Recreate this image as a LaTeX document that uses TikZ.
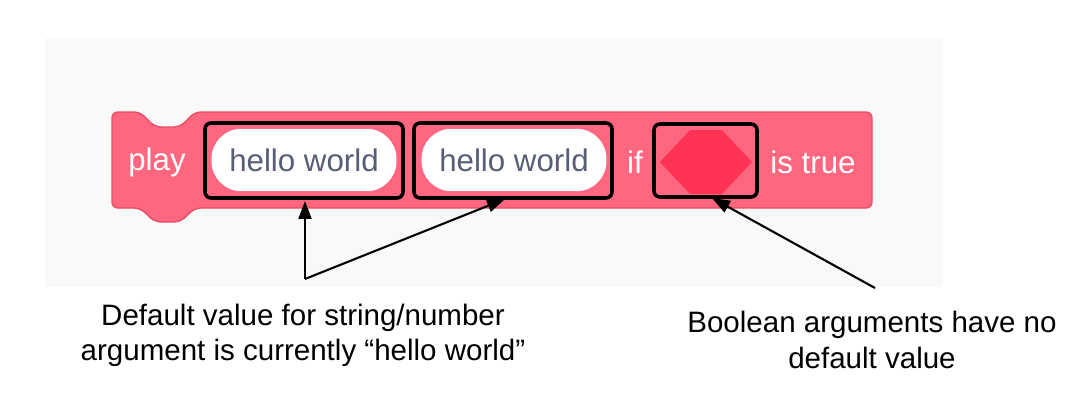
\documentclass[tikz,border=0pt]{standalone}
\usepackage{fontspec}
\setmainfont{Liberation Sans}
\usetikzlibrary{arrows.meta}
\definecolor{blockRed}{HTML}{FF6680}
\definecolor{blockEdge}{HTML}{E84D66}
\definecolor{boolRed}{HTML}{FF3355}
\definecolor{argText}{HTML}{575E75}
\definecolor{bgGray}{HTML}{F9F9F9}
\tikzset{
  argPill/.style={fill=white, rounded corners=0.6cm, minimum width=3.7cm, minimum height=1.25cm, inner sep=0pt, text=argText, font=\fontsize{17.8}{20}\selectfont},
  hiliteBox/.style={draw=black, line width=2pt, rounded corners=0.12cm, fill=none},
  blockWord/.style={text=white, font=\fontsize{17.8}{20}\selectfont},
  noteText/.style={align=center, font=\fontsize{16.8}{20}\selectfont},
  pointer/.style={-{Triangle[length=0.36cm,width=0.26cm]}, line width=1.2pt}
}
\begin{document}
\begin{tikzpicture}[x=0.02cm, y=-0.02cm]
  \useasboundingbox (0,0) rectangle (1080,409);
  \fill[bgGray] (45,38) rectangle (943,287);
  % block body
  \draw[blockEdge, fill=blockRed, line width=0.8pt, rounded corners=0.12cm]
    (112,112) -- (140,112) -- (155,127) -- (180,127) -- (195,112) -- (872,112)
    -- (872,208) -- (195,208) -- (180,222) -- (155,222) -- (140,208) -- (112,208) -- cycle;
  \node[blockWord] (play) at (157,162) {play};
  \node[argPill] (argA) at (304,160) {hello world};
  \node[argPill] (argB) at (514,160) {hello world};
  \node[blockWord] (ifWord) at (635,162) {if};
  \fill[boolRed] (660,162) -- (690,130) -- (722,130) -- (752,162) -- (722,194) -- (690,194) -- cycle;
  \node[blockWord] (isTrue) at (813,162) {is true};
  % highlight boxes
  \draw[hiliteBox] (205,123) rectangle (403,198);
  \draw[hiliteBox] (414,123) rectangle (612,198);
  \draw[hiliteBox] (654,124) rectangle (757,197);
  \coordinate (tipA) at (305,201);
  \coordinate (tipB) at (505,199);
  \coordinate (tipC) at (712,198);
  \coordinate (fork) at (305,279);
  \coordinate (tailC) at (875,288);
  \draw[pointer] (fork) -- (tipA);
  \draw[pointer] (fork) -- (tipB);
  \draw[pointer] (tailC) -- (tipC);
  \node[noteText] (noteArgs) at (303,335) {Default value for string/number\\argument is currently “hello world”};
  \node[noteText] (noteBool) at (872,340) {Boolean arguments have no\\default value};
\end{tikzpicture}
\end{document}
